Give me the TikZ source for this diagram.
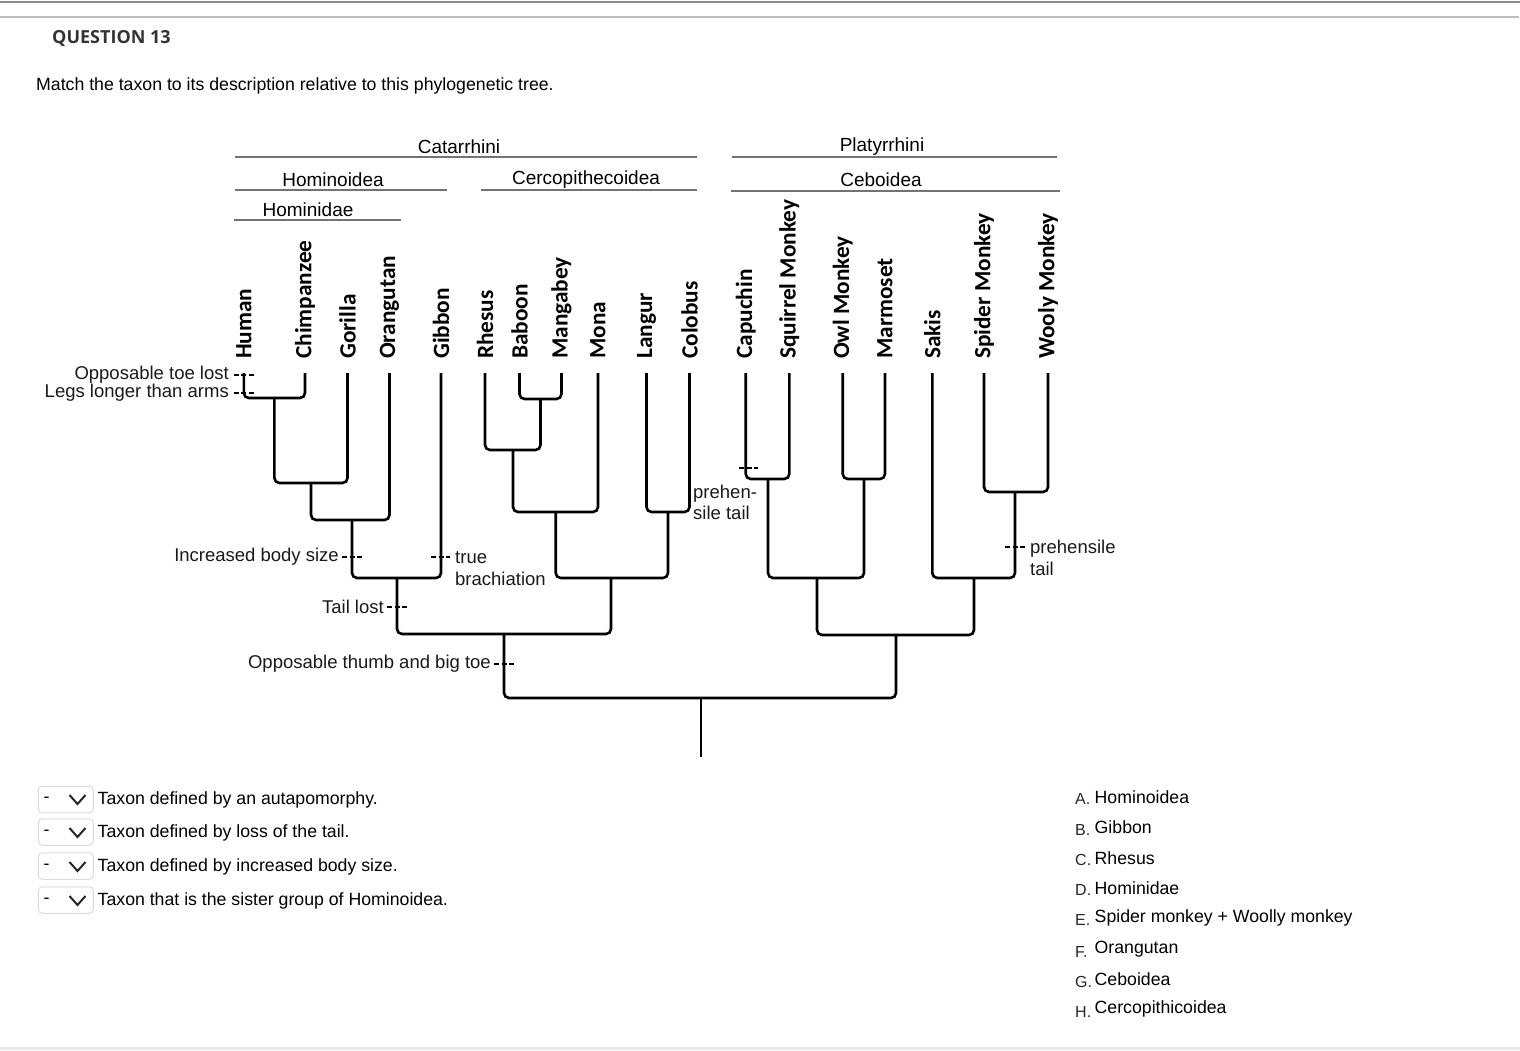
\documentclass[tikz,border=0pt]{standalone}
\usepackage{fontspec}
\setmainfont{Liberation Sans}
\newfontfamily\taxfont{Carlito}
\newfontfamily\qfont{Open Sans}

\tikzset{
  taxon/.style={rotate=90, anchor=west, inner sep=0pt, text=black, xshift=2pt,
    font=\taxfont\bfseries\fontsize{23.3}{23.3}\selectfont},
  clade/.style={inner sep=0pt, text=black, font=\fontsize{19}{19}\selectfont},
  cladeline/.style={draw=black!55, line width=1.6pt},
  branch/.style={draw=black, line width=2.6pt, rounded corners=5pt},
  trait/.style={line width=1.3pt, dash pattern=on 5pt off 2.5pt},
  note/.style={inner sep=0pt, align=left, text=black!90,
    font=\fontsize{18.5}{22.5}\selectfont},
  dropbox/.style={draw=black!14, line width=1pt, rounded corners=4pt,
    minimum width=55pt, minimum height=26.5pt},
  chev/.style={line width=2pt, draw=black!85},
  qrow/.style={anchor=west, inner sep=0pt, font=\fontsize{17.7}{17.7}\selectfont},
  qletter/.style={anchor=west, inner sep=0pt, text=black!85,
    font=\fontsize{16}{16}\selectfont},
}

\begin{document}
\begin{tikzpicture}[x=1pt,y=-1pt]
\useasboundingbox (0,0) rectangle (1520,1050);
% page rules
\draw[black!45, line width=1.5pt] (0,2) -- (1520,2);
\draw[black!25, line width=1.5pt] (0,17) -- (1519,17);
\draw[black!8, line width=3pt] (0,1048) -- (1520,1048);

\node[anchor=west, inner sep=0pt, text=black!80, font=\qfont\bfseries\fontsize{18}{18}\selectfont] (qtitle) at (52,38) {QUESTION 13};
\node[qrow] (qtext) at (36,86) {Match the taxon to its description relative to this phylogenetic tree.};

% clades
\node[clade] (catarrhini) at (459,147) {Catarrhini};
\draw[cladeline] (235,157) -- (697,157);
\node[clade] (platyrrhini) at (882,147) {Platyrrhini};
\draw[cladeline] (732,157) -- (1057,157);
\node[clade] (hominoidea) at (333,180) {Hominoidea};
\draw[cladeline] (235,190) -- (447,190);
\node[clade] (cercopith) at (586,180) {Cercopithecoidea};
\draw[cladeline] (481,190) -- (697,190);
\node[clade] (ceboidea) at (881,180) {Ceboidea};
\draw[cladeline] (731,191) -- (1060,191);
\node[clade] (hominidae) at (308,210) {Hominidae};
\draw[cladeline] (234,220) -- (401,220);

% taxa
\node[taxon] (lHuman) at (243.8,361) {Human};
\node[taxon] (lChimp) at (305,361) {Chimpanzee};
\node[taxon] (lGorilla) at (347.5,361) {Gorilla};
\node[taxon] (lOrang) at (389.5,361) {Orangutan};
\node[taxon] (lGibbon) at (441,361) {Gibbon};
\node[taxon] (lRhesus) at (485,361) {Rhesus};
\node[taxon] (lBaboon) at (519.5,361) {Baboon};
\node[taxon] (lMangabey) at (561.5,361) {Mangabey};
\node[taxon] (lMona) at (598,361) {Mona};
\node[taxon] (lLangur) at (646.5,361) {Langur};
\node[taxon] (lColobus) at (689.5,361) {Colobus};
\node[taxon] (lCapuchin) at (745.7,361) {Capuchin};
\node[taxon] (lSquirrel) at (789.3,361) {Squirrel Monkey};
\node[taxon] (lOwl) at (842.7,361) {Owl Monkey};
\node[taxon] (lMarmoset) at (885,361) {Marmoset};
\node[taxon] (lSakis) at (932.3,361) {Sakis};
\node[taxon] (lSpider) at (984,361) {Spider Monkey};
\node[taxon] (lWooly) at (1048,361) {Wooly Monkey};

% leaf tips
\coordinate (human) at (243.8,373);
\coordinate (chimp) at (305,373);
\coordinate (gorilla) at (347.5,373);
\coordinate (orang) at (389.5,373);
\coordinate (gibbon) at (441,373);
\coordinate (rhesus) at (485,373);
\coordinate (baboon) at (519.5,373);
\coordinate (mangabey) at (561.5,373);
\coordinate (mona) at (598,373);
\coordinate (langur) at (646.5,373);
\coordinate (colobus) at (689.5,373);
\coordinate (capuchin) at (745.7,373);
\coordinate (squirrel) at (789.3,373);
\coordinate (owl) at (842.7,373);
\coordinate (marmoset) at (885,373);
\coordinate (sakis) at (932.3,373);
\coordinate (spider) at (984,373);
\coordinate (wooly) at (1048,373);

% inner nodes
\coordinate (nHC) at (274.4,398);
\coordinate (nHCG) at (311,483);
\coordinate (nHmd) at (352,520);
\coordinate (nHmo) at (397,578);
\coordinate (nBM) at (540.5,399);
\coordinate (nRBM) at (513,450);
\coordinate (nRBMM) at (555.7,512);
\coordinate (nLC) at (668,512);
\coordinate (nCer) at (611,578);
\coordinate (nCat) at (504,634);
\coordinate (nCS) at (768,479);
\coordinate (nOM) at (864,479);
\coordinate (nSW) at (1015,492);
\coordinate (nCSOM) at (817,578);
\coordinate (nSSW) at (974,578);
\coordinate (nCeb) at (896,635);
\coordinate (nRoot) at (701,698);
\coordinate (base) at (701,757);

\draw[branch] (human) |- (nHC) -| (chimp);
\draw[branch] (nHC) |- (nHCG) -| (gorilla);
\draw[branch] (nHCG) |- (nHmd) -| (orang);
\draw[branch] (nHmd) |- (nHmo) -| (gibbon);
\draw[branch] (baboon) |- (nBM) -| (mangabey);
\draw[branch] (rhesus) |- (nRBM) -| (nBM);
\draw[branch] (nRBM) |- (nRBMM) -| (mona);
\draw[branch] (langur) |- (nLC) -| (colobus);
\draw[branch] (nRBMM) |- (nCer) -| (nLC);
\draw[branch] (nHmo) |- (nCat) -| (nCer);
\draw[branch] (capuchin) |- (nCS) -| (squirrel);
\draw[branch] (owl) |- (nOM) -| (marmoset);
\draw[branch] (spider) |- (nSW) -| (wooly);
\draw[branch] (nCS) |- (nCSOM) -| (nOM);
\draw[branch] (sakis) |- (nSSW) -| (nSW);
\draw[branch] (nCSOM) |- (nCeb) -| (nSSW);
\draw[branch] (nCat) |- (nRoot) -| (nCeb);
\draw[branch] (nRoot) -- (base);

% characters
\node[note, anchor=east] (toe) at (229,375) {Opposable toe lost};
\draw[trait] (233.8,375) -- (253.8,375);
\node[note, anchor=east] (legs) at (229,393) {Legs longer than arms};
\draw[trait] (233.8,393) -- (253.8,393);
\node[note, anchor=east] (size) at (339,557) {Increased body size};
\draw[trait] (342,557) -- (362,557);
\draw[trait] (431,557) -- (450,557);
\node[note, anchor=west] (brach) at (455,568.5) {true\\brachiation};
\node[note, anchor=east] (tail) at (384,607) {Tail lost};
\draw[trait] (387,607) -- (407,607);
\node[note, anchor=east] (thumb) at (491,664) {Opposable thumb and big toe};
\draw[trait] (494,664) -- (514,664);
\draw[trait] (739,468) -- (758,468);
\node[note, anchor=west, font=\fontsize{18.5}{21.5}\selectfont] (prehA) at (693,502.5) {prehen-\\sile tail};
\draw[trait] (1005,547) -- (1025,547);
\node[note, anchor=west, font=\fontsize{18.5}{22}\selectfont] (prehB) at (1030,558) {prehensile\\tail};

% matching rows
\node[dropbox] (dd1) at (65.8,799.5) {};
\node[dropbox] (dd2) at (65.8,832) {};
\node[dropbox] (dd3) at (65.8,866) {};
\node[dropbox] (dd4) at (65.8,900) {};
\node[qrow] at (43.5,799.5) {-};
\node[qrow] at (43.5,832.5) {-};
\node[qrow] at (43.5,866.5) {-};
\node[qrow] at (43.5,900.5) {-};
\draw[chev] (69.5,795) -- (77.5,804) -- (85.5,795);
\draw[chev] (69.5,828) -- (77.5,837) -- (85.5,828);
\draw[chev] (69.5,862) -- (77.5,871) -- (85.5,862);
\draw[chev] (69.5,896) -- (77.5,905) -- (85.5,896);
\node[qrow] (r1) at (97.5,799.5) {Taxon defined by an autapomorphy.};
\node[qrow] (r2) at (97.5,833) {Taxon defined by loss of the tail.};
\node[qrow] (r3) at (97.5,866.5) {Taxon defined by increased body size.};
\node[qrow] (r4) at (97.5,900.5) {Taxon that is the sister group of Hominoidea.};

% answers
\node[qletter] (la) at (1075,799) {A.};
\node[qletter] (lb) at (1075,829.5) {B.};
\node[qletter] (lc) at (1075,860) {C.};
\node[qletter] (ld) at (1075,890) {D.};
\node[qletter] (le) at (1075,920) {E.};
\node[qletter] (lf) at (1075,951.5) {F.};
\node[qletter] (lg) at (1075,981.5) {G.};
\node[qletter] (lh) at (1075,1011.5) {H.};
\node[qrow] (aa) at (1094.5,796.7) {Hominoidea};
\node[qrow] (ab) at (1094.5,827.3) {Gibbon};
\node[qrow] (ac) at (1094.5,857.7) {Rhesus};
\node[qrow] (ad) at (1094.5,887.7) {Hominidae};
\node[qrow] (ae) at (1094.5,917.7) {Spider monkey + Woolly monkey};
\node[qrow] (af) at (1094.5,949.3) {Orangutan};
\node[qrow] (ag) at (1094.5,979.3) {Ceboidea};
\node[qrow] (ah) at (1094.5,1009.3) {Cercopithicoidea};
\end{tikzpicture}
\end{document}
